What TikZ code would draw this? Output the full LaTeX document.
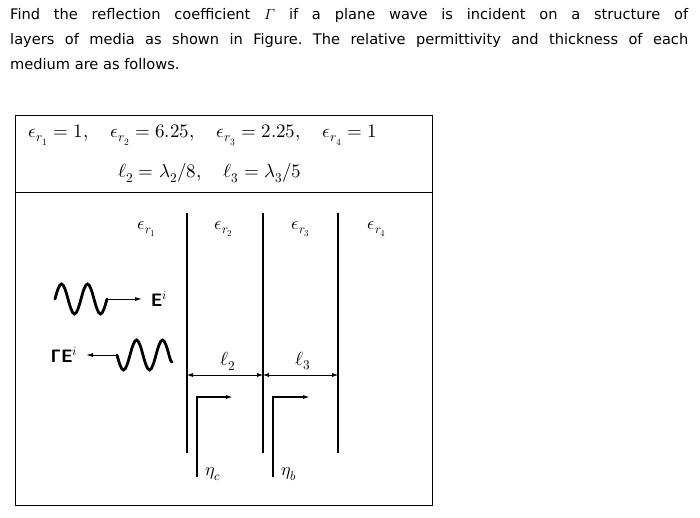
\documentclass[tikz,border=0pt]{standalone}
\usepackage{fontspec}
\setmainfont{DejaVu Sans}
\usepackage{unicode-math}
\setmathfont{Latin Modern Math}
\usetikzlibrary{arrows.meta}
\frenchspacing
\begin{document}
\begin{tikzpicture}[x=1pt,y=-1pt,
  layer/.style={line width=1.4pt},
  dim/.style={line width=0.6pt,{Latex[length=6pt,width=4pt]}-{Latex[length=6pt,width=4pt]}},
  wave/.style={line width=2.8pt,line cap=round},
  lbl/.style={inner sep=0pt,font=\fontsize{19}{21}\selectfont},
  slbl/.style={inner sep=0pt,font=\fontsize{18}{20}\selectfont}]
\useasboundingbox (0,0) rectangle (700,518);
\node[anchor=north west,inner sep=0pt,text width=678pt,align=justify,font=\fontsize{14.6}{25}\selectfont\frenchspacing] (title) at (10,8)
 {Find the reflection coefficient $\symit{\Gamma}$ if a plane wave is incident on a structure of\linebreak layers of media as shown in Figure. The relative permittivity and thickness of each\linebreak medium are as follows.};
\draw[line width=0.6pt] (15,115) rectangle (432,505);
\draw[line width=0.6pt] (15,192) -- (432,192);
\node[lbl] (h1) at (203,135) {$\epsilon_{r_1}=1,\quad \epsilon_{r_2}=6.25,\quad \epsilon_{r_3}=2.25,\quad \epsilon_{r_4}=1$};
\node[lbl] (h2) at (210,173) {$\ell_2=\lambda_2/8,\quad \ell_3=\lambda_3/5$};
\coordinate (a1) at (187,213); \coordinate (a2) at (187,453);
\coordinate (b1) at (263,213); \coordinate (b2) at (263,453);
\coordinate (c1) at (338,213); \coordinate (c2) at (338,453);
\draw[layer] (a1)--(a2); \draw[layer] (b1)--(b2); \draw[layer] (c1)--(c2);
\node[slbl] (e1) at (147,229) {$\epsilon_{r_1}$};
\node[slbl] (e2) at (224,229) {$\epsilon_{r_2}$};
\node[slbl] (e3) at (301,229) {$\epsilon_{r_3}$};
\node[slbl] (e4) at (377,229) {$\epsilon_{r_4}$};
\coordinate (d1) at (187,375); \coordinate (d2) at (263,375); \coordinate (d3) at (338,375);
\draw[dim] (d1)--(d2); \draw[dim] (d2)--(d3);
\node[lbl] (l2) at (228,361) {$\ell_2$};
\node[lbl] (l3) at (303,361) {$\ell_3$};
\draw[line width=1.3pt,-{Latex[length=7pt,width=4pt]}] (197,477)--(197,397)--(233,397);
\draw[line width=1.3pt,-{Latex[length=7pt,width=4pt]}] (273,477)--(273,397)--(310,397);
\node[slbl] (nc) at (213,474) {$\eta_c$};
\node[slbl] (nb) at (289,474) {$\eta_b$};
\draw[wave] (55,299) sin (61.5,284) cos (68,299) sin (74.5,314) cos (81,299)
  sin (87.5,284) cos (94,299) sin (100.5,314) cos (107,299);
\coordinate (w1) at (107,299);
\node[lbl,font=\sffamily\bfseries\fontsize{18}{20}\selectfont] (Ei) at (159,299) {E$^i$};
\draw[line width=0.9pt,-{Latex[length=7pt,width=4pt]}] (w1)--(142,299);
\draw[wave] (117,355) sin (123.5,370) cos (130,355) sin (136.5,340) cos (143,355)
  sin (149.5,370) cos (156,355) sin (162.5,340) cos (169,355) sin (172,362);
\coordinate (w2) at (117,355);
\node[lbl,font=\sffamily\bfseries\fontsize{18}{20}\selectfont] (GE) at (64,355) {ΓE$^i$};
\draw[line width=0.9pt,-{Latex[length=7pt,width=4pt]}] (w2)--(86,355);
\end{tikzpicture}
\end{document}
